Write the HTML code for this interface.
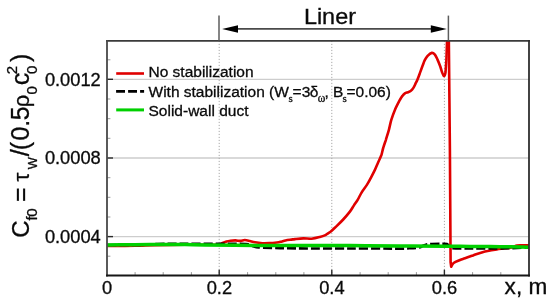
<!DOCTYPE html>
<html><head><meta charset="utf-8">
<style>
html,body{margin:0;padding:0;background:#fff;}
body{width:550px;height:302px;overflow:hidden;}
svg{display:block;}
text{font-family:"Liberation Sans",Arial,sans-serif;fill:#0a0a0a;stroke:#0a0a0a;stroke-width:0.3px;}
.sym{font-family:"Liberation Sans",sans-serif;}
.ser{font-family:"Liberation Serif",serif;}
</style></head><body>
<svg width="550" height="302" viewBox="0 0 550 302">
<defs><clipPath id="clip"><rect x="107.0" y="40.85" width="422.0" height="234.65"/></clipPath></defs>
<rect width="550" height="302" fill="#fff"/>
<g stroke="#cdcdcd" stroke-width="1.3"><line x1="107.0" y1="236.6" x2="529.0" y2="236.6"/><line x1="107.0" y1="158.0" x2="529.0" y2="158.0"/><line x1="107.0" y1="79.3" x2="529.0" y2="79.3"/></g>
<g stroke="#a8a8a8" stroke-width="1" stroke-dasharray="1.2,1.8"><line x1="219.2" y1="40.85" x2="219.2" y2="275.5"/><line x1="331.8" y1="40.85" x2="331.8" y2="275.5"/><line x1="444.4" y1="40.85" x2="444.4" y2="275.5"/></g>

<g clip-path="url(#clip)">
<path d="M106.0,246.0 C109.2,246.0 119.3,246.0 125.0,245.9 C130.7,245.8 135.0,245.7 140.0,245.6 C145.0,245.5 147.5,245.2 155.0,245.1 C162.5,245.0 175.8,244.9 185.0,244.8 C194.2,244.8 204.8,244.8 210.0,244.8 C215.2,244.8 214.4,244.8 216.0,244.7 C217.6,244.6 218.7,244.7 219.8,244.4 C220.9,244.1 221.5,243.5 222.6,243.0 C223.7,242.5 225.2,241.9 226.5,241.5 C227.8,241.1 229.0,240.9 230.5,240.7 C232.0,240.5 233.7,240.4 235.4,240.4 C237.1,240.4 238.9,241.0 240.5,240.9 C242.1,240.8 243.2,240.0 244.8,240.0 C246.4,240.0 248.2,240.6 249.9,241.0 C251.6,241.4 252.9,241.8 255.0,242.2 C257.1,242.6 259.9,243.0 262.3,243.2 C264.7,243.3 267.1,243.2 269.5,243.1 C271.9,243.0 275.0,242.7 276.8,242.5 C278.6,242.3 279.1,242.2 280.5,241.8 C281.9,241.5 283.7,240.8 285.5,240.4 C287.3,240.0 289.8,239.8 291.4,239.6 C293.0,239.4 293.0,239.3 295.0,239.1 C297.0,238.9 300.5,238.5 303.3,238.4 C306.1,238.3 308.9,238.9 311.6,238.7 C314.4,238.5 317.6,237.6 319.8,237.0 C322.0,236.4 323.4,236.0 324.8,235.4 C326.2,234.8 327.0,234.0 328.1,233.3 C329.2,232.6 330.0,232.2 331.4,231.0 C332.8,229.8 334.6,228.0 336.6,226.1 C338.6,224.2 341.0,221.9 343.2,219.5 C345.4,217.1 348.1,213.9 349.9,211.6 C351.7,209.3 352.5,207.6 353.8,205.6 C355.1,203.6 356.5,201.8 357.8,199.6 C359.1,197.4 360.2,194.8 361.7,192.3 C363.2,189.9 365.3,187.4 366.9,184.9 C368.5,182.4 369.8,179.9 371.1,177.4 C372.4,174.9 373.7,172.4 374.9,169.9 C376.1,167.4 377.0,165.0 378.1,162.5 C379.2,160.0 380.5,157.4 381.4,155.0 C382.2,152.6 382.4,150.5 383.2,148.0 C383.9,145.5 384.9,142.8 385.9,139.8 C386.8,136.8 388.0,133.1 388.9,129.8 C389.8,126.5 390.3,123.2 391.3,119.9 C392.3,116.6 393.5,113.2 394.9,109.9 C396.3,106.6 398.6,102.3 399.8,100.0 C401.1,97.7 401.5,97.0 402.4,95.9 C403.2,94.8 404.0,94.0 404.9,93.4 C405.8,92.8 406.9,92.6 407.9,92.2 C408.9,91.8 410.0,91.5 410.9,90.8 C411.8,90.1 412.6,89.1 413.4,87.9 C414.1,86.8 414.8,85.2 415.4,83.9 C416.0,82.6 416.6,81.7 417.3,80.0 C418.0,78.3 418.8,76.2 419.6,74.0 C420.4,71.8 421.4,68.8 422.3,66.5 C423.2,64.2 424.0,61.7 424.9,59.9 C425.8,58.1 426.5,57.0 427.6,55.8 C428.8,54.6 430.6,53.1 431.8,52.9 C433.0,52.7 433.9,53.5 434.9,54.6 C435.8,55.7 436.6,57.7 437.5,59.6 C438.4,61.5 439.4,64.1 440.2,66.3 C441.0,68.5 441.6,71.0 442.2,72.6 C442.8,74.1 443.2,75.1 443.6,75.6 C444.0,76.1 444.3,76.1 444.6,75.6 C444.9,75.1 445.4,73.0 445.5,72.5 L445.5,72.5 L446.4,60.0 L447.2,36.0" fill="none" stroke="#e00000" stroke-width="2.6" stroke-linejoin="round" stroke-linecap="round"/>
<path d="M448.8,36.0 L449.9,150.0 L450.6,262.0 L451.2,266.8 L451.2,266.8 C451.6,266.2 452.1,264.1 453.6,263.0 C455.1,261.9 458.1,260.8 460.0,260.0 C461.9,259.2 462.8,259.0 465.0,258.2 C467.2,257.4 470.4,256.3 473.0,255.4 C475.6,254.5 478.2,253.5 480.9,252.7 C483.5,251.9 486.2,251.2 488.9,250.7 C491.5,250.1 494.1,249.8 496.8,249.4 C499.5,249.0 502.8,248.6 504.8,248.3 C506.8,248.1 507.6,248.1 509.0,247.9 C510.4,247.7 511.7,247.3 513.0,246.9 C514.3,246.5 515.5,245.9 517.0,245.6 C518.5,245.3 519.8,245.4 522.0,245.3 C524.2,245.2 528.7,245.2 530.0,245.2" fill="none" stroke="#e00000" stroke-width="2.6" stroke-linejoin="round" stroke-linecap="round"/>
<path d="M106.0,245.0 C112.5,245.0 136.3,245.0 145.0,244.8 C153.7,244.6 151.3,244.2 158.0,244.0 C164.7,243.8 173.8,243.9 185.0,243.9 C196.2,243.9 214.8,243.9 225.0,243.9 C235.2,243.9 241.8,243.8 246.0,244.0 C250.2,244.2 248.7,244.5 250.0,244.9 C251.3,245.3 252.5,246.2 254.0,246.6 C255.5,247.0 254.7,247.2 259.0,247.5 C263.3,247.8 273.2,247.9 280.0,248.1 C286.8,248.2 288.3,248.3 300.0,248.4 C311.7,248.5 333.3,248.5 350.0,248.5 C366.7,248.5 390.2,248.6 400.0,248.6 C409.8,248.6 406.3,248.4 409.0,248.3 C411.7,248.2 414.2,248.1 416.0,247.9 C417.8,247.7 418.8,247.7 420.0,247.3 C421.2,247.0 421.9,246.3 423.0,245.8 C424.1,245.3 425.0,244.7 426.5,244.4 C428.0,244.1 429.4,244.1 432.0,244.0 C434.6,243.9 439.5,243.9 442.0,243.9 C444.5,243.9 445.8,243.7 447.0,244.1 C448.2,244.5 448.5,245.6 449.3,246.3 C450.1,247.0 448.6,247.8 452.0,248.2 C455.4,248.6 463.7,248.4 470.0,248.5 C476.3,248.6 483.2,248.6 490.0,248.5 C496.8,248.4 504.3,248.4 511.0,248.2 C517.7,248.0 526.8,247.5 530.0,247.3" fill="none" stroke="#000" stroke-width="2.6" stroke-dasharray="9,3" stroke-dashoffset="-1.66"/>
<path d="M106.0,245.1 C110.0,245.0 122.7,244.8 130.0,244.7 C137.3,244.6 140.8,244.5 150.0,244.5 C159.2,244.5 175.8,244.5 185.0,244.6 C194.2,244.7 193.3,244.8 205.0,244.9 C216.7,245.0 239.2,245.3 255.0,245.4 C270.8,245.5 284.2,245.4 300.0,245.4 C315.8,245.4 333.3,245.4 350.0,245.5 C366.7,245.6 384.2,245.9 400.0,246.0 C415.8,246.1 433.3,246.1 445.0,246.2 C456.7,246.3 460.8,246.3 470.0,246.4 C479.2,246.5 490.0,246.6 500.0,246.7 C510.0,246.8 525.0,247.1 530.0,247.2" fill="none" stroke="#00d000" stroke-width="3.5"/>
</g>

<g stroke="#2a2a2a" stroke-width="1.4"><line x1="219.2" y1="275.5" x2="219.2" y2="269.7"/><line x1="331.8" y1="275.5" x2="331.8" y2="269.7"/><line x1="444.4" y1="275.5" x2="444.4" y2="269.7"/><line x1="135.1" y1="275.5" x2="135.1" y2="272.1" stroke-width="1.0" stroke="#999"/><line x1="163.2" y1="275.5" x2="163.2" y2="272.1" stroke-width="1.0" stroke="#999"/><line x1="191.4" y1="275.5" x2="191.4" y2="272.1" stroke-width="1.0" stroke="#999"/><line x1="247.6" y1="275.5" x2="247.6" y2="272.1" stroke-width="1.0" stroke="#999"/><line x1="275.8" y1="275.5" x2="275.8" y2="272.1" stroke-width="1.0" stroke="#999"/><line x1="303.9" y1="275.5" x2="303.9" y2="272.1" stroke-width="1.0" stroke="#999"/><line x1="360.1" y1="275.5" x2="360.1" y2="272.1" stroke-width="1.0" stroke="#999"/><line x1="388.2" y1="275.5" x2="388.2" y2="272.1" stroke-width="1.0" stroke="#999"/><line x1="416.4" y1="275.5" x2="416.4" y2="272.1" stroke-width="1.0" stroke="#999"/><line x1="472.6" y1="275.5" x2="472.6" y2="272.1" stroke-width="1.0" stroke="#999"/><line x1="500.8" y1="275.5" x2="500.8" y2="272.1" stroke-width="1.0" stroke="#999"/><line x1="107.0" y1="236.6" x2="113.0" y2="236.6"/><line x1="107.0" y1="158.0" x2="113.0" y2="158.0"/><line x1="107.0" y1="79.3" x2="113.0" y2="79.3"/><line x1="107.0" y1="256.2" x2="110.4" y2="256.2" stroke-width="1.0" stroke="#999"/><line x1="107.0" y1="217.0" x2="110.4" y2="217.0" stroke-width="1.0" stroke="#999"/><line x1="107.0" y1="197.3" x2="110.4" y2="197.3" stroke-width="1.0" stroke="#999"/><line x1="107.0" y1="177.7" x2="110.4" y2="177.7" stroke-width="1.0" stroke="#999"/><line x1="107.0" y1="138.3" x2="110.4" y2="138.3" stroke-width="1.0" stroke="#999"/><line x1="107.0" y1="118.7" x2="110.4" y2="118.7" stroke-width="1.0" stroke="#999"/><line x1="107.0" y1="99.0" x2="110.4" y2="99.0" stroke-width="1.0" stroke="#999"/><line x1="107.0" y1="59.8" x2="110.4" y2="59.8" stroke-width="1.0" stroke="#999"/></g>
<g stroke-width="1.8" stroke-linecap="square">
<line x1="107.0" y1="40.85" x2="529.0" y2="40.85" stroke="#3a3a3a"/>
<line x1="529.0" y1="40.85" x2="529.0" y2="275.5" stroke="#2e2e2e"/>
<line x1="107.0" y1="40.85" x2="107.0" y2="275.5" stroke="#484848"/>
<line x1="107.0" y1="275.5" x2="529.0" y2="275.5" stroke="#161616"/>
</g>

<!-- Liner arrow -->
<g stroke="#5c5c5c" stroke-width="1.5">
<line x1="219.0" y1="15.6" x2="219.0" y2="40.6"/>
<line x1="448.4" y1="15.6" x2="448.4" y2="40.6"/>
<line x1="230" y1="28.9" x2="438" y2="28.9" stroke="#4a4a4a" stroke-width="1.6"/>
</g>
<path d="M222.1,28.9 L238,25.3 L238,32.8 Z" fill="#000"/>
<path d="M446.8,28.9 L430.8,25.3 L430.8,32.8 Z" fill="#000"/>
<text transform="translate(303.9,23.6) scale(1.09,1)" font-size="21.5">Liner</text>

<!-- y tick labels -->
<g font-size="18.3" text-anchor="end">
<text x="100.8" y="85.9">0.0012</text>
<text x="100.8" y="164.4">0.0008</text>
<text x="100.8" y="243">0.0004</text>
</g>
<!-- x tick labels -->
<g font-size="18.3" text-anchor="middle">
<text x="107" y="293.8">0</text>
<text x="219.4" y="293.8">0.2</text>
<text x="331.9" y="293.8">0.4</text>
<text x="444.5" y="293.8">0.6</text>
</g>
<text transform="translate(504.6,293.7) scale(1.06,1)" font-size="21.3">x, m</text>

<!-- y label -->
<text transform="translate(29.3,0) rotate(-90)"><tspan x="-237.8" y="0" font-size="24">C</tspan><tspan x="-220.4" y="7.6" font-size="15">f</tspan><tspan x="-216.7" y="7.6" font-size="15">0</tspan><tspan x="-202.1" y="0" font-size="25">=</tspan><tspan x="-181.4" y="0" font-size="22.5">τ</tspan><tspan x="-169.2" y="7.4" font-size="12.8">W</tspan><tspan x="-156.3" y="0" font-size="25">/</tspan><tspan x="-150.2" y="0" font-size="25">(</tspan><tspan x="-140.5" y="0" font-size="25">0</tspan><tspan x="-126.8" y="0" font-size="25">.</tspan><tspan x="-120.2" y="0" font-size="25">5</tspan><tspan x="-107.3" y="0" font-size="22">ρ</tspan><tspan x="-94.6" y="7.6" font-size="15">0</tspan><tspan x="-85.3" y="0" font-size="25">c</tspan><tspan x="-74.0" y="7.6" font-size="15">0</tspan><tspan x="-74.2" y="-12.1" font-size="15">2</tspan><tspan x="-61.9" y="0" font-size="25">)</tspan></text>

<!-- legend -->
<line x1="116.2" y1="73.5" x2="144" y2="73.5" stroke="#e00000" stroke-width="2.6"/>
<line x1="116.1" y1="91.4" x2="144.1" y2="91.4" stroke="#000" stroke-width="2.9" stroke-dasharray="8.9,3.1"/>
<line x1="116.2" y1="109.9" x2="144" y2="109.9" stroke="#00d000" stroke-width="3"/>
<g font-size="15.5">
<text x="148.5" y="76.9">No stabilization</text>
<text y="96.6"><tspan x="148.5">With stabilization (W</tspan><tspan x="288.4" y="101.9" class="ser" font-size="11">s</tspan><tspan x="292.6" y="96.6">=3</tspan><tspan x="309.8" class="sym">δ</tspan><tspan x="317.7" y="102.2" class="ser" font-size="11.5">ω</tspan><tspan x="324.4" y="96.6">, B</tspan><tspan x="342.6" y="101.9" class="ser" font-size="11">s</tspan><tspan x="346.5" y="96.6">=0.06)</tspan></text>
<text x="148.5" y="116.3">Solid-wall duct</text>
</g>
</svg>
</body></html>
